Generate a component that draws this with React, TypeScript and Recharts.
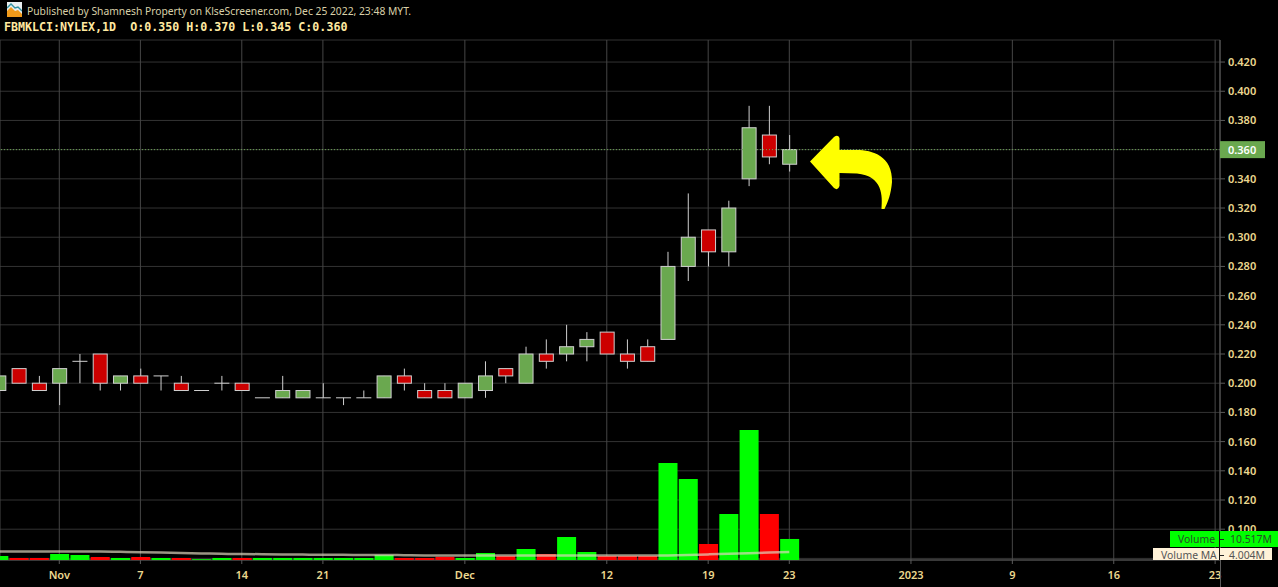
import React from "react"
import { Bar, CartesianGrid, Cell, ComposedChart, Line, ReferenceLine, XAxis, YAxis } from "recharts"

const dayIndex = [
  -3, -2, -1, 0, 1, 2, 3, 4, 5, 6, 7, 8, 9, 10, 11, 12, 13, 14, 15, 16,
  17, 18, 19, 20, 21, 22, 23, 24, 25, 26, 27, 28, 29, 30, 31, 32, 33, 34, 35, 36,
]
const opens = [
  0.195, 0.21, 0.2, 0.2, 0.215, 0.22, 0.2, 0.205, 0.205, 0.2, 0.195, 0.2, 0.2, 0.19, 0.19, 0.19, 0.19, 0.19, 0.19, 0.19,
  0.205, 0.195, 0.195, 0.19, 0.195, 0.21, 0.2, 0.22, 0.22, 0.225, 0.235, 0.22, 0.225, 0.23, 0.28, 0.305, 0.29, 0.34, 0.37, 0.35,
]
const highs = [
  0.205, 0.21, 0.205, 0.21, 0.22, 0.22, 0.205, 0.21, 0.205, 0.205, 0.195, 0.205, 0.2, 0.19, 0.205, 0.195, 0.2, 0.19, 0.195, 0.205,
  0.21, 0.2, 0.2, 0.2, 0.215, 0.21, 0.225, 0.23, 0.24, 0.235, 0.235, 0.23, 0.23, 0.29, 0.33, 0.305, 0.325, 0.39, 0.39, 0.37,
]
const lows = [
  0.195, 0.2, 0.195, 0.185, 0.2, 0.195, 0.195, 0.2, 0.195, 0.195, 0.195, 0.195, 0.195, 0.19, 0.19, 0.19, 0.19, 0.185, 0.19, 0.19,
  0.195, 0.19, 0.19, 0.19, 0.19, 0.2, 0.2, 0.21, 0.215, 0.215, 0.22, 0.21, 0.215, 0.23, 0.27, 0.28, 0.28, 0.335, 0.35, 0.345,
]
const closes = [
  0.205, 0.2, 0.195, 0.21, 0.215, 0.2, 0.205, 0.2, 0.205, 0.195, 0.195, 0.2, 0.195, 0.19, 0.195, 0.195, 0.19, 0.19, 0.19, 0.205,
  0.2, 0.19, 0.19, 0.2, 0.205, 0.205, 0.22, 0.215, 0.225, 0.23, 0.22, 0.215, 0.215, 0.28, 0.3, 0.29, 0.32, 0.375, 0.355, 0.36,
]
// millions
const volumes = [
  2, 1, 1, 3, 2.5, 1.5, 1, 1.5, 1, 1, 0.4, 1, 1, 1, 1, 1, 1, 1, 1, 2.5,
  1, 1, 1.6, 1, 3.5, 2, 5.5, 3, 11.5, 4, 2, 2, 2, 48.5, 40.5, 8, 23, 65, 23, 10.517,
]
const volumeMa = [
  4.3, 4.3, 4.3, 4.3, 4.3, 4.2, 4.1, 3.9, 3.7, 3.5, 3.3, 3.1, 3, 2.9, 2.8, 2.7, 2.6, 2.6, 2.5, 2.5,
  2.4, 2.3, 2.3, 2.3, 2.2, 2.2, 2.2, 2.2, 2.2, 2.2, 2.2, 2.2, 2.2, 2.3, 2.5, 2.8, 3.1, 3.4, 3.7, 4.004,
]

const priceTicks = [
  0.08, 0.1, 0.12, 0.14, 0.16, 0.18, 0.2, 0.22, 0.24, 0.26, 0.28, 0.3, 0.32, 0.34, 0.36, 0.38, 0.4, 0.42,
]
const timeTicks = [0, 4, 9, 13, 20, 27, 32, 36, 42, 47, 52, 57]
const timeLabels = ["Nov", "7", "14", "21", "Dec", "12", "19", "23", "2023", "9", "16", "23"]
const lastPrice = 0.36
// sits behind the volume tags in the original, so no label is shown for it
const hiddenPriceLabel = 0.08

const rows = dayIndex.map((day, i) => ({
  day,
  open: opens[i],
  high: highs[i],
  low: lows[i],
  close: closes[i],
  volume: volumes[i],
  ma: volumeMa[i],
}))

const W = 1278
const H = 587
const UP = "#6aa84f"
const DOWN = "#cc0000"
const WICK = "#cfcfcf"
const GOLD = "#ecd88f"
const FONT = '"Noto Sans", sans-serif'
const xDomain: [number, number] = [-2.924, 57.24]
const priceDomain: [number, number] = [0.0789, 0.4351]

const Candle = (props: any) => {
  const { x, y, width, height, payload } = props
  const { open, high, low, close } = payload
  const mid = x + width / 2
  const h = Math.abs(height)
  const perUnit = high > low ? h / (high - low) : 0
  const top = y + (high - Math.max(open, close)) * perUnit
  const bodyH = Math.abs(open - close) * perUnit
  return (
    <g>
      <line x1={mid} x2={mid} y1={y} y2={y + h} stroke={WICK} strokeWidth={1} />
      {bodyH > 0 ? (
        <rect
          x={x + 0.5}
          y={top}
          width={width - 1}
          height={bodyH}
          fill={close < open ? DOWN : UP}
          stroke={WICK}
          strokeWidth={1}
        />
      ) : (
        <line x1={x} x2={x + width} y1={top} y2={top} stroke={WICK} strokeWidth={1} />
      )}
    </g>
  )
}

const PriceTick = (props: any) => {
  const { y, payload } = props
  const isLast = payload.value === lastPrice
  if (payload.value === hiddenPriceLabel) return <g />
  return (
    <g>
      {isLast && <rect x={1220} y={y - 8.5} width={45} height={17} fill={UP} />}
      <text
        x={1228}
        y={y + 4}
        fontFamily={FONT}
        fontSize={11}
        fontWeight={600}
        fill={isLast ? "#ffffff" : GOLD}
      >
        {payload.value.toFixed(3)}
      </text>
    </g>
  )
}

const TimeTick = (props: any) => {
  const { x, payload } = props
  return (
    <text
      x={x}
      y={579}
      textAnchor="middle"
      fontFamily={FONT}
      fontSize={11}
      fontWeight={600}
      fill={GOLD}
    >
      {timeLabels[timeTicks.indexOf(payload.value)]}
    </text>
  )
}

const layer: React.CSSProperties = { position: "absolute", left: 0, top: 0 }

const PriceChart = () => (
  <ComposedChart
    style={layer}
    width={W}
    height={H}
    data={rows}
    margin={{ top: 40, right: 0, bottom: 0, left: 0 }}
  >
    <CartesianGrid stroke="#333333" vertical={false} />
    <CartesianGrid stroke="#464646" horizontal={false} />
    <XAxis
      dataKey="day"
      type="number"
      domain={xDomain}
      allowDataOverflow
      ticks={timeTicks}
      interval={0}
      height={27}
      tickSize={4}
      stroke="#5a5a5a"
      tick={<TimeTick />}
    />
    <YAxis
      orientation="right"
      type="number"
      domain={priceDomain}
      allowDataOverflow
      ticks={priceTicks}
      interval={0}
      width={58}
      tickSize={5}
      stroke="#5a5a5a"
      tick={<PriceTick />}
    />
    <ReferenceLine y={lastPrice} stroke={UP} strokeDasharray="1 2" />
    <Bar
      dataKey={(d: any) => [d.low, d.high]}
      barSize={15}
      isAnimationActive={false}
      shape={(p: any) => <Candle {...p} />}
    />
  </ComposedChart>
)

const VolumeChart = () => (
  <ComposedChart
    style={layer}
    width={W}
    height={H}
    data={rows}
    margin={{ top: 40, right: 58, bottom: 27, left: 0 }}
  >
    <XAxis dataKey="day" type="number" domain={xDomain} allowDataOverflow hide />
    <YAxis type="number" domain={[0, 260]} allowDataOverflow hide />
    <Bar dataKey="volume" barSize={19} isAnimationActive={false}>
      {rows.map((r) => (
        <Cell key={r.day} fill={r.close < r.open ? "#ff0000" : "#00ff00"} />
      ))}
    </Bar>
    <Line
      dataKey="ma"
      type="monotone"
      stroke="#dcd4bc"
      strokeOpacity={0.7}
      strokeWidth={2.5}
      dot={false}
      isAnimationActive={false}
    />
  </ComposedChart>
)

const Arrow = () => (
  <svg style={layer} width={W} height={H}>
    <path
      d="M810 161.5 L834 137 Q838 134 839.5 138 L839.5 150 L857 150 C872 150 893 156 892 182 C891 194 888 202 884.5 209 L881.5 209 C882.5 196 883 176 857 173.5 L839.5 173 L839.5 186 Q838 191 834 188 Z"
      fill="#ffff00"
    />
  </svg>
)

const Logo = () => (
  <svg style={{ position: "absolute", left: 7, top: 2 }} width={15} height={15}>
    <rect width={15} height={15} fill="#e8eef0" />
    <path d="M0 15 L0 9 L4 5 L8 9 L11 8 L15 12 L15 15 Z" fill="#f09a1a" />
    <path d="M0 6 L4 2 L8 6 L11 5 L15 9" fill="none" stroke="#2f8f9f" strokeWidth={1.4} />
  </svg>
)

const Header = () => (
  <>
    <Logo />
    <div
      style={{
        position: "absolute",
        left: 27,
        top: 4,
        fontFamily: FONT,
        fontSize: 10.3,
        lineHeight: "14px",
        color: "#d9d0a8",
        whiteSpace: "pre",
      }}
    >
      Published by Shamnesh Property on KlseScreener.com, Dec 25 2022, 23:48 MYT.
    </div>
    <div
      style={{
        position: "absolute",
        left: 4,
        top: 20,
        fontFamily: '"DejaVu Sans Mono", monospace',
        fontSize: 11.65,
        fontWeight: 700,
        lineHeight: "14px",
        color: "#ffe9a0",
        whiteSpace: "pre",
      }}
    >
      FBMKLCI:NYLEX,1D  O:0.350 H:0.370 L:0.345 C:0.360
    </div>
  </>
)

const tagText: React.CSSProperties = {
  position: "absolute",
  fontFamily: FONT,
  fontSize: 10.4,
  lineHeight: "14px",
  whiteSpace: "pre",
}

const VolumeTags = () => (
  <>
    <div style={{ position: "absolute", left: 1170, top: 531, width: 108, height: 16, background: "#00ff00" }} />
    <div style={{ ...tagText, left: 1178, top: 532, color: "#2a4a2a" }}>Volume</div>
    <div style={{ ...tagText, left: 1230, top: 532, color: "#2a4a2a" }}>10.517M</div>
    <div style={{ position: "absolute", left: 1153, top: 548, width: 119, height: 12, background: "#fff2d8", overflow: "hidden" }} />
    <div style={{ ...tagText, left: 1161, top: 548, color: "#555" }}>Volume MA</div>
    <div style={{ ...tagText, left: 1229, top: 548, color: "#555" }}>4.004M</div>
    <div style={{ position: "absolute", left: 1219, top: 531, width: 1, height: 29, background: "#111" }} />
    <div style={{ position: "absolute", left: 1220, top: 539, width: 4, height: 1, background: "#222" }} />
    <div style={{ position: "absolute", left: 1220, top: 555, width: 4, height: 1, background: "#222" }} />
    <div style={{ position: "absolute", left: 1220, top: 560, width: 1, height: 27, background: "#5a5a5a" }} />
  </>
)

export default function App() {
  return (
    <div style={{ position: "absolute", left: 0, top: 0, width: W, height: H, background: "#000", overflow: "hidden" }}>
      <PriceChart />
      <VolumeChart />
      <Arrow />
      <Header />
      <VolumeTags />
    </div>
  )
}
